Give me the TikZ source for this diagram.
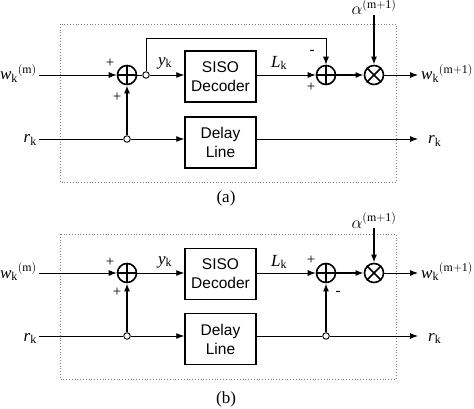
\documentclass[tikz,border=0pt]{standalone}
\usepackage{fontspec}
\setmainfont{Liberation Serif}
\newfontfamily\blkfont{Liberation Sans}
\usetikzlibrary{arrows.meta}

\begin{document}
\begin{tikzpicture}[x=1pt,y=1pt,yscale=-1,xscale=1,
  font=\fontsize{17}{19}\selectfont,
  ln/.style={line width=0.9pt},
  arr/.style={ln,-{Latex[length=8pt,width=6pt]}},
  tarr/.style={line width=1.6pt,-{Latex[length=8pt,width=6pt]}},
  sumnode/.style={draw,circle,line width=1.6pt,minimum size=19pt,inner sep=0pt},
  tapnode/.style={draw,circle,line width=0.9pt,fill=white,minimum size=6.5pt,inner sep=0pt},
  blk/.style={draw,line width=1.5pt,minimum width=71pt,minimum height=51pt,align=center,font=\blkfont\fontsize{15.5}{19}\selectfont},
  frm/.style={gray,dotted,line width=0.8pt},
  sgn/.style={inner sep=0pt,font=\fontsize{15}{17}\selectfont}]
\useasboundingbox (0,0) rectangle (474,409);

%%%%%%%%%%%%%%%%%%%% (a)
\draw[frm] (60,24) rectangle (396,182);

% Text Node
\node[inner sep=0pt,anchor=base east] (wlbla) at (37,80) {${\mathit{w}_{\mathrm{k}}}^{\mathrm{(m)}}$};
\node[inner sep=0pt,anchor=base east] (rlbla) at (37,143) {$\mathit{r}_{\mathrm{k}}$};
\coordinate (ina) at (39,75);
\coordinate (rina) at (39,139);

% Adders, taps, blocks
\node[sumnode] (sa1) at (127,75) {};
\node[tapnode] (ta) at (146,75) {};
\node[tapnode] (ra) at (127,139) {};
\node[blk] (deca) at (220.5,76.5) {SISO\\Decoder};
\node[blk] (dela) at (220.5,142.5) {Delay\\Line};
\node[sumnode] (sa2) at (326,75) {};
\node[sumnode] (ma) at (374,75) {};
\coordinate (fba) at (326,38);

% Text Node
\node[inner sep=0pt,anchor=base] (ala) at (374,15) {$\alpha^{\mathrm{(m+1)}}$};
\node[inner sep=0pt] (yla) at (165,63) {$\mathit{y}_{\mathrm{k}}$};
\node[inner sep=0pt] (lla) at (279,63) {$\mathit{L}_{\mathrm{k}}$};
\node[sgn] (sgna1) at (110,63) {+};
\node[sgn] (sgna2) at (117,97) {+};
\node[sgn] (sgna3) at (312,52) {-};
\node[sgn] (sgna4) at (311,87) {+};
\node[inner sep=0pt,anchor=base west] (wouta) at (421,80) {${\mathit{w}_{\mathrm{k}}}^{\mathrm{(m+1)}}$};
\node[inner sep=0pt,anchor=base west] (routa) at (428,144) {$\mathit{r}_{\mathrm{k}}$};
\coordinate (oa) at (418,75);
\coordinate (roa) at (418,139);
\node (capa) at (226,198) {(a)};

% Connectors
\draw[arr] (ina) -- (sa1);
\draw[ln] (rina) -- (ra);
\draw[arr] (ra) -- (ra -| dela.west);
\draw[tarr] (ra) -- (sa1);
\draw[ln] (sa1) -- (ta);
\draw[arr] (ta) -- (ta -| deca.west);
\draw[arr] (ta) |- (fba) -- (sa2);
\draw[arr] (deca.east |- sa2) -- (sa2);
\draw[tarr] (sa2) -- (ma);
\draw[tarr] (ala.south) -- (ma);
\draw[arr] (ma) -- (oa);
\draw[arr] (dela.east |- ra) -- (roa);

%%%%%%%%%%%%%%%%%%%% (b)
\draw[frm] (60,234) rectangle (396,379);

% Text Node
\node[inner sep=0pt,anchor=base east] (wlblb) at (37,278) {${\mathit{w}_{\mathrm{k}}}^{\mathrm{(m)}}$};
\node[inner sep=0pt,anchor=base east] (rlblb) at (37,341) {$\mathit{r}_{\mathrm{k}}$};
\coordinate (inb) at (39,273);
\coordinate (rinb) at (39,336);

% Adders, taps, blocks
\node[sumnode] (sb1) at (127,273) {};
\node[tapnode] (rb) at (127,336) {};
\node[blk] (decb) at (220.5,274) {SISO\\Decoder};
\node[blk] (delb) at (220.5,339) {Delay\\Line};
\node[sumnode] (sb2) at (326,273) {};
\node[tapnode] (tb) at (326,336) {};
\node[sumnode] (mb) at (374,273) {};

% Text Node
\node[inner sep=0pt,anchor=base] (alb) at (374,228) {$\alpha^{\mathrm{(m+1)}}$};
\node[inner sep=0pt] (ylb) at (165,262) {$\mathit{y}_{\mathrm{k}}$};
\node[inner sep=0pt] (llb) at (279,262) {$\mathit{L}_{\mathrm{k}}$};
\node[sgn] (sgnb1) at (110,262) {+};
\node[sgn] (sgnb2) at (117,292) {+};
\node[sgn] (sgnb3) at (311,260) {+};
\node[sgn] (sgnb4) at (338,293) {-};
\node[inner sep=0pt,anchor=base west] (woutb) at (421,278) {${\mathit{w}_{\mathrm{k}}}^{\mathrm{(m+1)}}$};
\node[inner sep=0pt,anchor=base west] (routb) at (428,341) {$\mathit{r}_{\mathrm{k}}$};
\coordinate (ob) at (418,273);
\coordinate (rob) at (418,336);
\node (capb) at (226,399) {(b)};

% Connectors
\draw[arr] (inb) -- (sb1);
\draw[ln] (rinb) -- (rb);
\draw[arr] (rb) -- (rb -| delb.west);
\draw[tarr] (rb) -- (sb1);
\draw[arr] (sb1) -- (sb1 -| decb.west);
\draw[arr] (decb.east |- sb2) -- (sb2);
\draw[ln] (delb.east |- tb) -- (tb);
\draw[arr] (tb) -- (rob);
\draw[tarr] (tb) -- (sb2);
\draw[tarr] (sb2) -- (mb);
\draw[tarr] (alb.south) -- (mb);
\draw[arr] (mb) -- (ob);

% plus and cross marks
\foreach \s in {sa1,sa2,sb1,sb2}
  \draw[line width=1.6pt] (\s.north) -- (\s.south) (\s.west) -- (\s.east);
\foreach \m in {ma,mb}
  \draw[line width=1.6pt] (\m.45) -- (\m.225) (\m.135) -- (\m.315);

\end{tikzpicture}
\end{document}
